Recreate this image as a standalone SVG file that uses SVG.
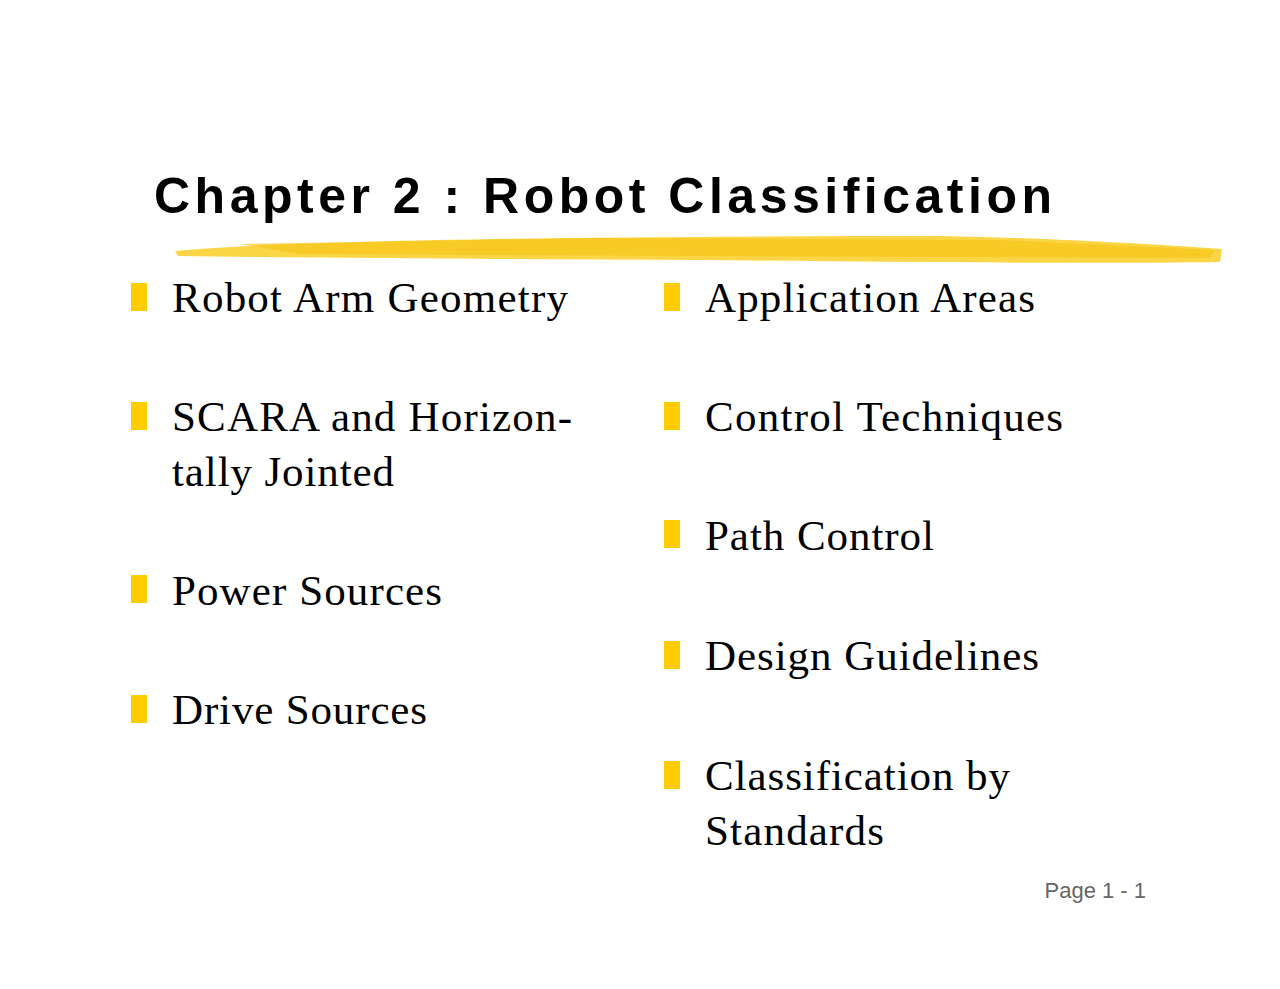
<svg xmlns="http://www.w3.org/2000/svg" width="1280" height="989" viewBox="0 0 1280 989">
<style>
.t{font-family:"Liberation Serif",serif;font-size:43px;fill:#000}
.b{fill:#FFCC00}
</style>
<rect width="1280" height="989" fill="#fff"/>
<text x="154" y="213" font-family="Liberation Sans,Arial,sans-serif" font-weight="bold" font-size="50" textLength="898" lengthAdjust="spacing" fill="#000">Chapter 2 : Robot Classification</text>
<path d="M175,251 C300,240 600,236 940,236 C1050,238 1150,244 1222,249 L1220,262 C1100,264 900,262 700,260 C500,259 300,258 178,256 Z" fill="#FAD233" opacity="0.9"/>
<path d="M240,244 L600,238 L1000,240 L1215,250 L1210,258 L700,256 L300,254 Z" fill="#F5C518" opacity="0.7"/>
<g class="b">
<rect x="131" y="283" width="16" height="28"/>
<rect x="131" y="402" width="16" height="28"/>
<rect x="131" y="575" width="16" height="28"/>
<rect x="131" y="695" width="16" height="28"/>
<rect x="664" y="283" width="16" height="28"/>
<rect x="664" y="402" width="16" height="28"/>
<rect x="664" y="520" width="16" height="28"/>
<rect x="664" y="641" width="16" height="28"/>
<rect x="664" y="761" width="16" height="28"/>
</g>
<text class="t" x="172" y="312" textLength="396">Robot Arm Geometry</text>
<text class="t" x="172" y="431" textLength="400">SCARA and Horizon-</text>
<text class="t" x="172" y="486" textLength="222">tally Jointed</text>
<text class="t" x="172" y="605" textLength="270">Power Sources</text>
<text class="t" x="172" y="724" textLength="255">Drive Sources</text>
<text class="t" x="705" y="312" textLength="330">Application Areas</text>
<text class="t" x="705" y="431" textLength="358">Control Techniques</text>
<text class="t" x="705" y="550" textLength="229">Path Control</text>
<text class="t" x="705" y="670" textLength="334">Design Guidelines</text>
<text class="t" x="705" y="790" textLength="305">Classification by</text>
<text class="t" x="705" y="845" textLength="179">Standards</text>
<text x="1146" y="898" text-anchor="end" font-family="Liberation Sans,Arial,sans-serif" font-size="22" fill="#666">Page 1 - 1</text>
</svg>
